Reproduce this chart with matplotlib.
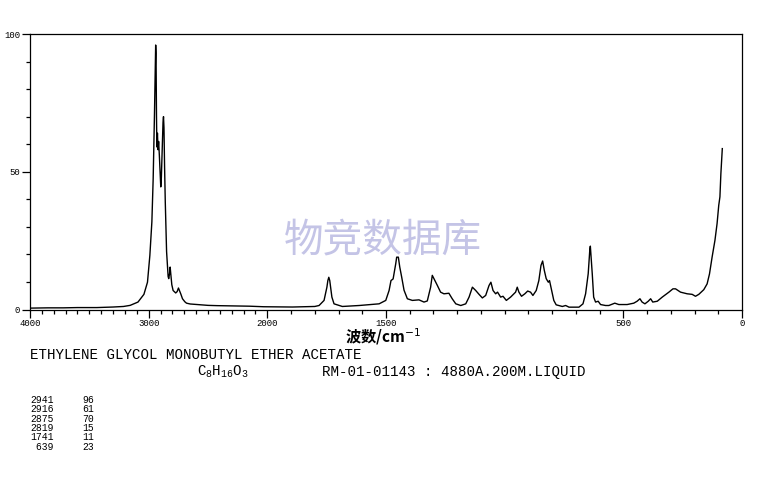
import numpy as np
import matplotlib
matplotlib.use("Agg")
import matplotlib.pyplot as plt
from matplotlib.ticker import FixedLocator, NullFormatter, FixedFormatter

# ---------------- data ----------------
wavenumber = [
    4000, 3850, 3719, 3600, 3437, 3300, 3212, 3156, 3090, 3040, 3010, 2990, 2973, 2962,
    2951, 2944, 2941, 2938, 2934, 2931, 2926, 2921, 2916, 2910, 2904, 2898, 2893, 2885,
    2879, 2875, 2871, 2866, 2860, 2849, 2836, 2831, 2824, 2819, 2813, 2805, 2794, 2772,
    2760, 2749, 2740, 2728, 2715, 2695, 2681, 2650, 2593, 2500, 2424, 2300, 2150, 2031,
    1894, 1800, 1782, 1761, 1749, 1745, 1741, 1737, 1728, 1719, 1684, 1613, 1529, 1501,
    1487, 1479, 1470, 1459, 1455, 1448, 1442, 1434, 1424, 1410, 1389, 1361, 1340, 1326,
    1312, 1305, 1298, 1284, 1270, 1256, 1235, 1221, 1206, 1185, 1164, 1150, 1136, 1122,
    1108, 1094, 1080, 1066, 1058, 1049, 1038, 1030, 1017, 1007, 993, 975, 954, 947, 940,
    929, 915, 903, 891, 881, 867, 856, 847, 840, 833, 825, 816, 811, 802, 793, 783, 757,
    743, 729, 687, 670, 659, 648, 641, 639, 631, 625, 617, 606, 596, 575, 561, 536, 519,
    484, 456, 442, 430, 421, 409, 395, 385, 376, 357, 336, 308, 291, 280, 259, 231, 210,
    196, 182, 161, 147, 137, 126, 114, 105, 98, 93, 89, 83,
]
intensity = [
    0.5, 0.6, 0.6, 0.7, 0.7, 0.9, 1.1, 1.5, 2.7, 5.5, 9.9, 19.6, 31.8, 47.5,
    71.0, 90.0, 96.0, 93.0, 70.0, 59.0, 64.0, 58.0, 61.0, 56.0, 50.0, 44.5, 48.0, 60.0,
    68.0, 70.0, 66.0, 52.0, 39.0, 21.0, 12.0, 11.2, 13.0, 15.4, 12.5, 9.0, 6.9, 6.0,
    6.5, 7.8, 6.8, 5.5, 3.9, 2.8, 2.3, 2.0, 1.8, 1.5, 1.4, 1.3, 1.2, 1.0,
    0.9, 1.1, 1.45, 3.3, 8.1, 10.5, 11.7, 10.5, 4.5, 2.06, 1.1, 1.45, 2.06, 3.3,
    6.9, 10.5, 11.1, 16.6, 19.0, 19.0, 15.4, 11.8, 7.0, 3.9, 3.3, 3.5, 2.7, 3.1,
    8.1, 12.4, 11.2, 8.8, 6.3, 5.7, 5.9, 3.9, 2.06, 1.45, 2.06, 4.5, 8.1, 6.9,
    5.5, 4.2, 5.1, 8.7, 9.9, 6.9, 5.7, 6.3, 4.5, 4.8, 3.3, 4.5, 6.3, 8.1, 6.3,
    4.8, 5.7, 6.7, 6.3, 5.1, 6.9, 10.5, 16.0, 17.6, 14.2, 11.2, 9.9, 10.5, 6.9, 3.3, 1.7, 1.1,
    1.45, 0.85, 0.85, 2.06, 5.7, 13.0, 22.0, 23.0, 13.0, 4.5, 2.7, 3.0, 1.8, 1.45, 1.45, 2.3, 1.8,
    1.8, 2.3, 3.0, 3.9, 2.7, 2.06, 3.0, 3.9, 2.7, 3.0, 4.5, 6.3, 7.5, 7.5, 6.3, 5.7, 5.5,
    4.8, 5.5, 7.2, 9.3, 12.9, 19.0, 25.1, 31.2, 37.8, 40.9, 49.3, 58.4,
]

x_major = [4000, 3000, 2000, 1500, 500, 0]
x_major_labels = ["4000", "3000", "2000", "1500", "500", "0"]
y_major = [0, 50, 100]
y_major_labels = ["0", "50", "100"]

title_text = "ETHYLENE GLYCOL MONOBUTYL ETHER ACETATE"
formula_text = r"C$_\mathregular{8}$H$_\mathregular{16}$O$_\mathregular{3}$"
ref_text = "RM-01-01143 : 4880A.200M.LIQUID"
xlabel_text = "波数/cm$^{-1}$"
watermark_text = "物竞数据库"
peak_wn = [2941, 2916, 2875, 2819, 1741, 639]
peak_int = [96, 61, 70, 15, 11, 23]

# ---------------- figure ----------------
W, H = 765, 479
fig = plt.figure(figsize=(W / 100, H / 100), dpi=100)
fig.patch.set_facecolor("white")

L, R, T, B = 30, 742, 34, 309.5
ax = fig.add_axes([L / W, 1 - B / H, (R - L) / W, (B - T) / H])


def fwd(w):
    w = np.asarray(w, dtype=float)
    return np.where(w > 2000, 2000 + (w - 2000) / 2.0, w)


def inv(u):
    u = np.asarray(u, dtype=float)
    return np.where(u > 2000, 2000 + (u - 2000) * 2.0, u)


ax.set_xscale("function", functions=(fwd, inv))
ax.plot(wavenumber, intensity, color="black", lw=1.0, zorder=3)
ax.set_xlim(4000, 0)
ax.set_ylim(0, 100)

mono = "Liberation Mono"
ax.xaxis.set_major_locator(FixedLocator(x_major))
ax.xaxis.set_major_formatter(FixedFormatter(x_major_labels))
ax.xaxis.set_minor_locator(FixedLocator(list(range(0, 4001, 100))))
ax.xaxis.set_minor_formatter(NullFormatter())
ax.yaxis.set_major_locator(FixedLocator(y_major))
ax.yaxis.set_major_formatter(FixedFormatter(y_major_labels))
ax.yaxis.set_minor_locator(FixedLocator(list(range(0, 101, 10))))
ax.yaxis.set_minor_formatter(NullFormatter())

ax.tick_params(axis="both", which="major", direction="out", length=5.5, width=0.9,
               labelsize=6.5, color="black", pad=1.5)
ax.tick_params(axis="both", which="minor", direction="out", length=3, width=0.9,
               color="black")
for lab in ax.get_xticklabels() + ax.get_yticklabels():
    lab.set_fontfamily(mono)
for s in ax.spines.values():
    s.set_linewidth(0.9)
    s.set_color("black")

# watermark
fig.text(383 / W, 1 - 240 / H, watermark_text, fontsize=28.5, color="#c4c4e6",
         family=["Noto Sans CJK SC", "DejaVu Sans"], ha="center", va="center", zorder=1)

# x label
fig.text(383 / W, 1 - 337 / H, xlabel_text, fontsize=11, fontweight="bold",
         family=["Noto Sans CJK SC", "DejaVu Sans"], ha="center", va="center")

# bottom texts
fig.text(30 / W, 1 - 355 / H, title_text, fontsize=10.2, family=mono,
         ha="left", va="center")
fig.text(197 / W, 1 - 372 / H, formula_text, fontsize=10.2, family=mono,
         ha="left", va="center")
fig.text(322 / W, 1 - 372 / H, ref_text, fontsize=10.2, family=mono,
         ha="left", va="center")

y0, dy = 400, 9.33
for i, (w, v) in enumerate(zip(peak_wn, peak_int)):
    yy = 1 - (y0 + i * dy) / H
    fig.text(30 / W, yy, f"{w:>4d}", fontsize=7, family=mono, ha="left", va="center")
    fig.text(82 / W, yy, f"{v:d}", fontsize=7, family=mono, ha="left", va="center")

fig.savefig("out.png", dpi=100)
